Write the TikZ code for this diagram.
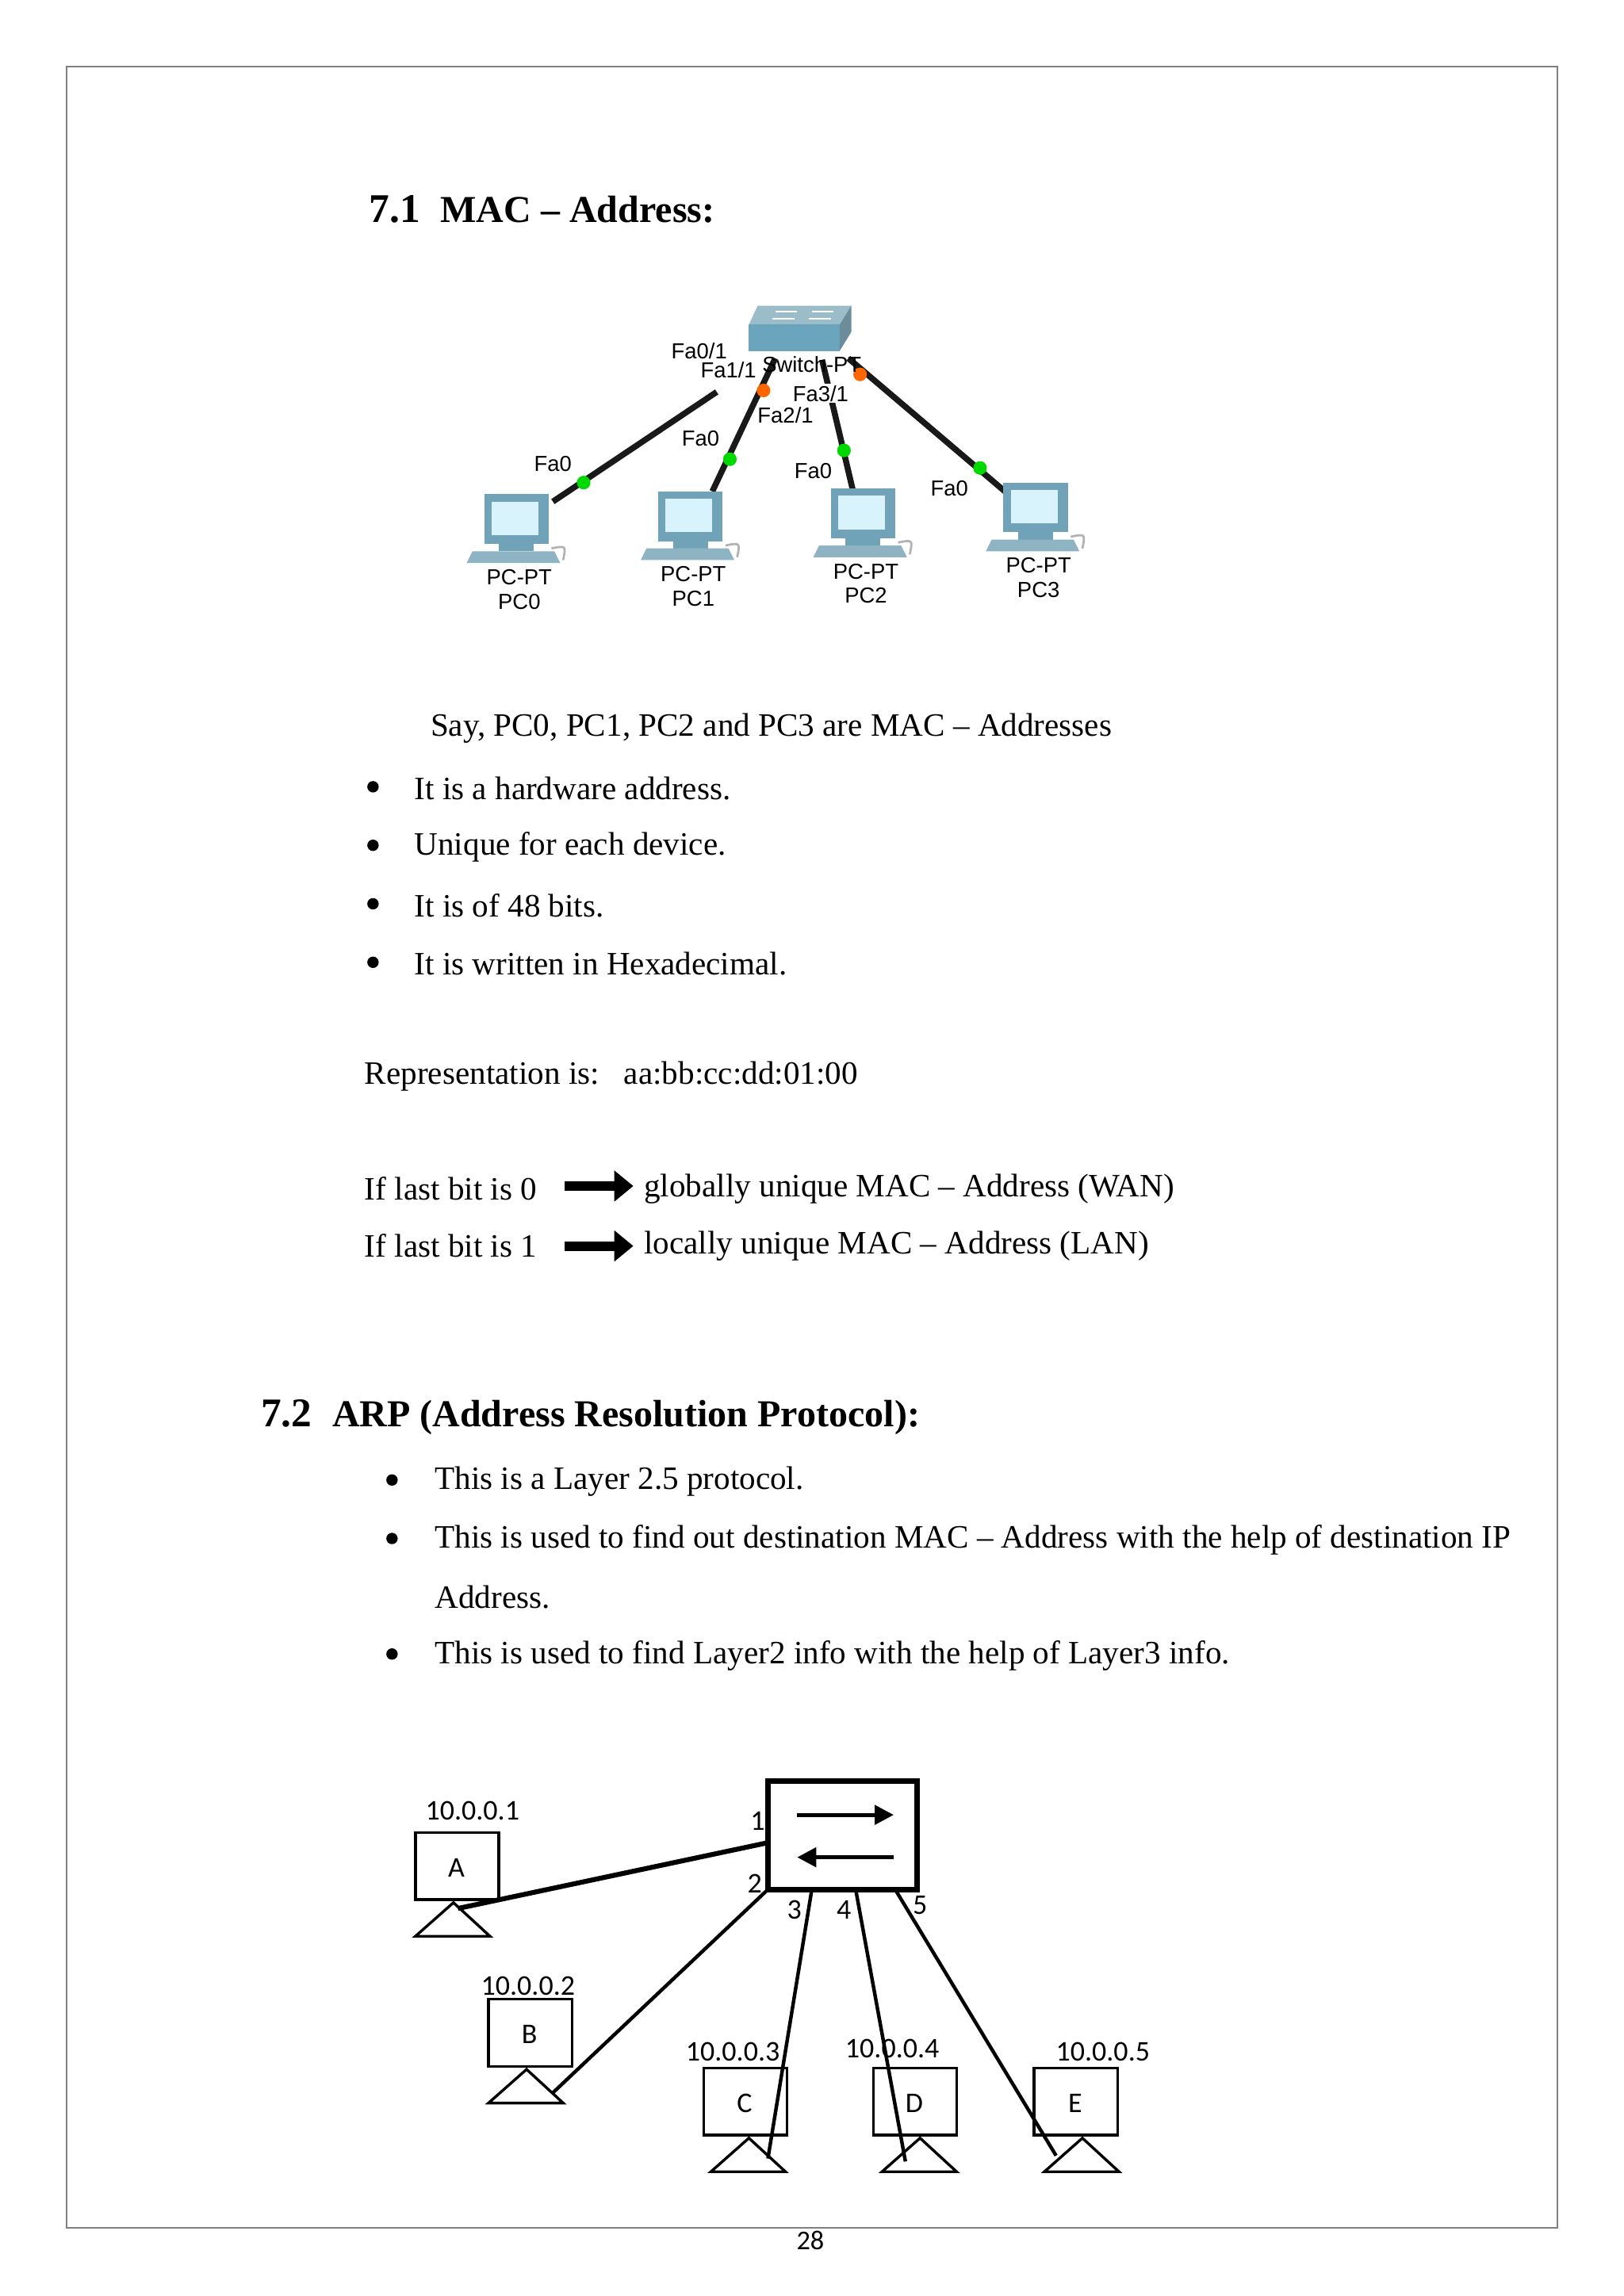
\documentclass[tikz,border=0pt]{standalone}
\usepackage{fontspec}
\usetikzlibrary{arrows.meta}
\setmainfont{Liberation Serif}
\newfontfamily\calfnt{Carlito}
\newfontfamily\tah{Liberation Sans}
\begin{document}
\begin{tikzpicture}[x=0.0189cm,y=-0.0189cm,
  txt/.style={anchor=west,inner sep=0,yshift=-3*0.0189cm,font=\fontsize{12}{14}\selectfont},
  bul/.style={circle,fill=black,inner sep=0,minimum size=4.2pt,yshift=-2*0.0189cm},
  head/.style={anchor=west,inner sep=0,yshift=-3*0.0189cm,font=\fontsize{14}{16}\selectfont\bfseries},
  pl/.style={inner sep=0,font=\tah\fontsize{8}{9}\selectfont},
  plw/.style={pl,fill=white,inner sep=0.5pt},
  link/.style={line width=2.2pt,black!90},
  gdot/.style={circle,fill=green!85!black,inner sep=0,minimum size=5pt},
  odot/.style={circle,fill=orange!80!red,inner sep=0,minimum size=5pt},
  cl/.style={inner sep=0,font=\calfnt\fontsize{10.5}{12}\selectfont},
  wire/.style={line width=1.3pt},
  bigar/.style={line width=3.5pt,-{Triangle[length=7pt,width=11pt]}}]
\useasboundingbox (0,0) rectangle (1110,1570);
\fill[white] (0,0) rectangle (1110,1570);
\node[draw=gray,line width=0.6pt,minimum width=1019*0.0189cm,minimum height=1478*0.0189cm,inner sep=0,anchor=north west] (frame) at (45,45) {};
\node[inner sep=0,font=\calfnt\fontsize{10}{12}\selectfont] (pg) at (554,1532) {28};
% heading 7.1
\node[head] (h1) at (252,140) {\fontsize{15}{16}\selectfont 7.1\ \ \fontsize{14}{16}\selectfont MAC -- Address:};
% ---- top network ----
\coordinate (s0) at (490,268); \coordinate (s1) at (530,245);
\coordinate (s2) at (562,246); \coordinate (s3) at (580,245);
\coordinate (p0) at (378,343); \coordinate (p1) at (487,336);
\coordinate (p2) at (583,335); \coordinate (p3) at (687,336);
\draw[link] (s0) -- (p0); \draw[link] (s1) -- (p1);
\draw[link] (s2) -- (p2); \draw[link] (s3) -- (p3);
\node[gdot] (g0) at (399,330) {}; \node[gdot] (g1) at (499,314) {};
\node[gdot] (g2) at (577,308) {}; \node[gdot] (g3) at (670,320) {};
\node[odot] (o1) at (588,256) {}; \node[odot] (o2) at (522,267) {};
% switch
\fill[cyan!35!gray!70] (518,209) -- (582,209) -- (574,222) -- (512,222) -- cycle;
\fill[cyan!45!gray] (512,222) -- (574,222) -- (574,240) -- (512,240) -- cycle;
\fill[cyan!40!gray!80!black] (574,222) -- (582,209) -- (582,227) -- (574,240) -- cycle;
\draw[white,line width=0.6pt] (530,213) -- (545,213) (555,213)--(570,213) (528,218)--(543,218) (553,218)--(568,218);
\node[pl] (l01) at (478,240) {Fa0/1};
\node[pl] (lsw) at (555,249) {Switch-PT};
\node[plw] (l11) at (498,253) {Fa1/1};
\node[plw] (l31) at (561,269) {Fa3/1};
\node[plw] (l21) at (537,284) {Fa2/1};
\node[pl] (f0) at (378,317) {Fa0}; \node[pl] (f1) at (479,300) {Fa0};
\node[pl] (f2) at (556,322) {Fa0}; \node[pl] (f3) at (649,334) {Fa0};
% PCs
\foreach \n/\x/\y in {0/353/355,1/472/353,2/590/351,3/708/347}{
  \fill[cyan!40!gray] (\x-22,\y-17) rectangle (\x+22,\y+17);
  \fill[cyan!15!white] (\x-17,\y-12) rectangle (\x+15,\y+11);
  \fill[cyan!40!gray] (\x-12,\y+17) rectangle (\x+12,\y+22);
  \fill[cyan!35!gray!80] (\x-30,\y+22) -- (\x+26,\y+22) -- (\x+30,\y+30) -- (\x-34,\y+30) -- cycle;
  \draw[gray!60,line width=0.8pt] (\x+24,\y+20) .. controls (\x+34,\y+18) .. (\x+32,\y+28);
  \node[pl,align=center] (pc\n) at (\x+2,\y+48) {PC-PT\\PC\n};
}
% ---- text ----
\node[txt] (say) at (294,495) {Say, PC0, PC1, PC2 and PC3 are MAC -- Addresses};
\foreach \y/\t [count=\i] in {536/It is a hardware address.,576/Unique for each device.,616/It is of 48 bits.,656/It is written in Hexadecimal.}{
  \node[bul] (b\i) at (255,\y) {};
  \node[txt] (t\i) at (283,\y) {\t};
}
\node[txt] (rep) at (249,733) {Representation is:\ \ \ aa:bb:cc:dd:01:00};
\node[txt] (lb0) at (249,810) {If last bit is 0};
\node[txt] (lb1) at (249,849) {If last bit is 1};
\coordinate (a0s) at (386,811); \coordinate (a0e) at (433,811);
\coordinate (a1s) at (386,852); \coordinate (a1e) at (433,852);
\draw[bigar] (a0s) -- (a0e); \draw[bigar] (a1s) -- (a1e);
\node[txt] (gl) at (440,810) {globally unique MAC -- Address (WAN)};
\node[txt] (lo) at (440,849) {locally unique MAC -- Address (LAN)};
% heading 7.2
\node[head] (h2) at (178,966) {\fontsize{15}{16}\selectfont 7.2\ \ \fontsize{14}{16}\selectfont ARP (Address Resolution Protocol):};
\foreach \y/\t [count=\i] in {1010/This is a Layer 2.5 protocol.,1050/This is used to find out destination MAC -- Address with the help of destination IP,1129/This is used to find Layer2 info with the help of Layer3 info.}{
  \node[bul] (c\i) at (268,\y) {};
  \node[txt] (u\i) at (297,\y) {\t};
}
\node[txt] (u4) at (297,1089) {Address.};
% ---- bottom diagram ----
\draw[line width=2pt] (525,1218) rectangle (627,1292);
\coordinate (ra) at (545,1241); \coordinate (rb) at (611,1241);
\coordinate (la) at (611,1270); \coordinate (lb) at (545,1270);
\draw[line width=1.5pt,-{Triangle[length=7pt,width=7pt]}] (ra) -- (rb);
\draw[line width=1.5pt,-{Triangle[length=7pt,width=7pt]}] (la) -- (lb);
\node[cl] (n1) at (518,1245) {1}; \node[cl] (n2) at (516,1288) {2};
\node[cl] (n3) at (543,1306) {3}; \node[cl] (n4) at (577,1306) {4};
\node[cl] (n5) at (629,1303) {5};
\foreach \n/\bx/\by/\tx/\ip/\ix/\iy in {A/284/1253/310/1/323/1238,B/334/1367/360/2/361/1358,C/481/1414/512/3/501/1403,D/597/1414/629/4/610/1401,E/707/1414/740/5/754/1403}{
  \draw[line width=1pt] (\bx,\by) rectangle (\bx+57,\by+46);
  \node[cl] (L\n) at (\bx+28,\by+24) {\n};
  \draw[line width=1pt] (\tx,\by+48) -- (\tx+25,\by+71) -- (\tx-26,\by+71) -- cycle;
  \node[cl] (ip\n) at (\ix,\iy) {10.0.0.\ip};
}
\coordinate (sA) at (525,1260); \coordinate (eA) at (313,1305);
\coordinate (sB) at (525,1292); \coordinate (eB) at (378,1431);
\coordinate (sC) at (555,1292); \coordinate (eC) at (525,1476);
\coordinate (sD) at (585,1292); \coordinate (eD) at (619,1478);
\coordinate (sE) at (612,1292); \coordinate (eE) at (722,1474);
\draw[wire,line width=1.8pt] (sA) -- (eA);
\foreach \k in {B,C,D,E}{\draw[wire] (s\k) -- (e\k);}
\end{tikzpicture}
\end{document}
